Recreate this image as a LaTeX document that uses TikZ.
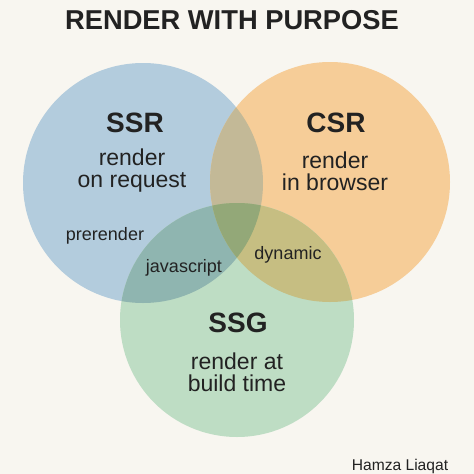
\documentclass[tikz,border=0pt]{standalone}
\usepackage{fontspec}
\setmainfont{Liberation Sans}

\definecolor{paper}{HTML}{F8F6F0}
\definecolor{ink}{HTML}{222222}
\definecolor{ssrblue}{HTML}{B3CCDD}
\definecolor{csrorange}{HTML}{F6CD98}
\definecolor{ssggreen}{HTML}{BEDDC4}
\definecolor{ssrcsr}{HTML}{C3B997}
\definecolor{ssrssg}{HTML}{8FB5B0}
\definecolor{csrssg}{HTML}{C6BE82}
\definecolor{allthree}{HTML}{93A878}

\tikzset{
  heading/.style={text=ink, font=\fontsize{27.3}{29}\selectfont\bfseries},
  setname/.style={text=ink, font=\fontsize{28}{30}\selectfont\bfseries},
  setnote/.style={text=ink, align=center, font=\fontsize{23}{22}\selectfont},
  overlap/.style={text=ink, font=\fontsize{18}{19}\selectfont},
  credit/.style={text=ink, font=\fontsize{15.6}{17}\selectfont}
}

\begin{document}
\begin{tikzpicture}[x=1pt, y=-1pt]

    % Page and background
    \useasboundingbox (0,0) rectangle (474,474);
    \fill[paper] (0,0) rectangle (474,474);

    % Centers of the three sets
    \coordinate (SSR) at (143,183);
    \coordinate (CSR) at (330,182);
    \coordinate (SSG) at (237,320);

    % Draw the circles
    \fill[ssrblue] (SSR) circle (120);
    \fill[csrorange] (CSR) circle (120);
    \fill[ssggreen] (SSG) circle (117);

    % Pairwise overlaps
    \begin{scope}
        \clip (SSR) circle (120);
        \fill[ssrcsr] (CSR) circle (120);
    \end{scope}
    \begin{scope}
        \clip (SSR) circle (120);
        \fill[ssrssg] (SSG) circle (117);
    \end{scope}
    \begin{scope}
        \clip (CSR) circle (120);
        \fill[csrssg] (SSG) circle (117);
    \end{scope}

    % Middle part shared by all three
    \begin{scope}
        \clip (SSR) circle (120);
        \clip (CSR) circle (120);
        \fill[allthree] (SSG) circle (117);
    \end{scope}

    % Title
    \node[heading] (title) at (232,20) {RENDER WITH PURPOSE};

    % Set names and notes
    \node[setname] (ssrname) at (135,123) {SSR};
    \node[setnote] (ssrnote) at (132,171) {render\\on request};
    \node[setname] (csrname) at (336,123) {CSR};
    \node[setnote] (csrnote) at (335,171) {render\\in browser};
    \node[setname] (ssgname) at (238,323) {SSG};
    \node[setnote] (ssgnote) at (237,372) {render at\\build time};

    % Labels in the overlaps
    \node[overlap] (prerender) at (105,236) {prerender};
    \node[overlap] (javascript) at (184,268) {javascript};
    \node[overlap] (dynamic) at (288,255) {dynamic};

    % Signature
    \node[credit] (author) at (400,466) {Hamza Liaqat};

\end{tikzpicture}
\end{document}
